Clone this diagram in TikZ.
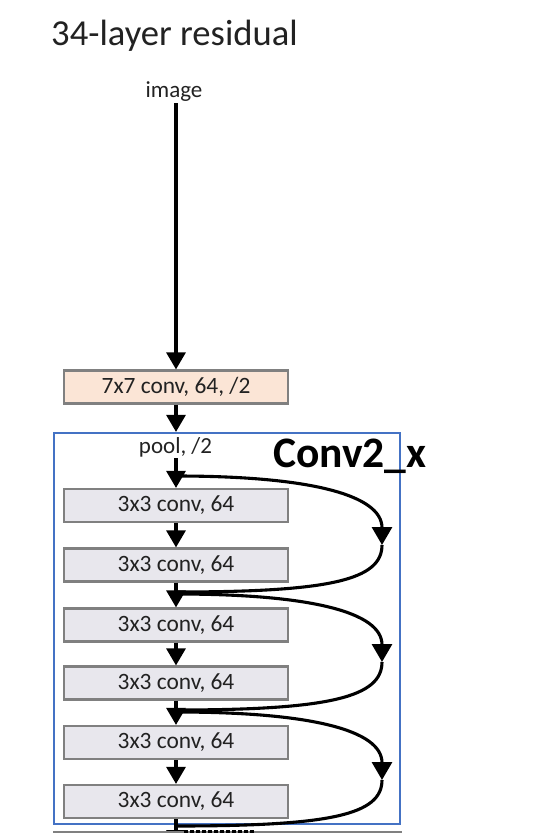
\documentclass[tikz,border=0pt]{standalone}
\usepackage{fontspec}
\setmainfont{Carlito}
\usetikzlibrary{arrows.meta}
\definecolor{peach}{HTML}{FBE5D6}
\definecolor{boxgray}{HTML}{E8E7ED}
\definecolor{edgegray}{HTML}{808080}
\definecolor{stageblue}{HTML}{4472C4}
\definecolor{txt}{HTML}{222222}
\begin{document}
\begin{tikzpicture}[x=1pt,y=-1pt,
  layerbox/.style={draw=edgegray, line width=2.2pt, minimum width=224pt, minimum height=33pt, inner sep=0pt, font=\fontsize{23.4}{27}\selectfont, text=txt},
  convbox/.style={layerbox, fill=boxgray},
  firstbox/.style={layerbox, fill=peach},
  sarr/.style={line width=3.1pt, -{Triangle[width=19pt,length=17pt]}},
  skip/.style={line width=3.1pt},
  skiparr/.style={skip, -{Triangle[width=20pt,length=18pt]}},
  lbl/.style={font=\fontsize{23}{26}\selectfont, text=txt, inner sep=1.5pt},
]
\useasboundingbox (0,0) rectangle (540,833);
\clip (0,0) rectangle (540,833);
\fill[white] (0,0) rectangle (540,833);

\node[anchor=base west, inner sep=0pt, font=\fontsize{36.6}{42}\selectfont, text=txt] (title) at (51,45) {34-layer residual};
\node[lbl, anchor=base] (img) at (174,97.7) {image};
\node[firstbox] (b0) at (176,387) {7x7 conv, 64, /2};
\node[draw=stageblue, line width=2.2pt, minimum width=346pt, minimum height=391pt, inner sep=0pt] (stage) at (227,628.5) {};
\node[lbl, anchor=base] (pool) at (175.5,453) {pool, /2};
\node[anchor=base west, inner sep=0pt, font=\bfseries\fontsize{43.5}{48}\selectfont] (stagename) at (273,467) {Conv2\_x};

\node[convbox] (b1) at (176,505.5) {3x3 conv, 64};
\node[convbox] (b2) at (176,565) {3x3 conv, 64};
\node[convbox] (b3) at (176,625) {3x3 conv, 64};
\node[convbox] (b4) at (176,683) {3x3 conv, 64};
\node[convbox] (b5) at (176,742.5) {3x3 conv, 64};
\node[convbox] (b6) at (176,801.5) {3x3 conv, 64};

% main path
\draw[sarr] (img.south -| b0) -- (b0.north);
\draw[sarr] (b0) -- (b0 |- stage.north);
\draw[sarr] (pool.south -| b1) -- (b1.north);
\draw[sarr] (b1) -- (b2);
\draw[sarr] (b2) -- (b3);
\draw[sarr] (b3) -- (b4);
\draw[sarr] (b4) -- (b5);
\draw[sarr] (b5) -- (b6);
\draw[sarr] (b6.south) -- (176,847);

% shortcuts
\coordinate (m0) at (176,476);
\coordinate (r1) at (382,545);
\coordinate (m1) at (176,592);
\coordinate (m1b) at (176,594);
\coordinate (r2) at (382,662);
\coordinate (m2) at (176,710);
\coordinate (m2b) at (176,712);
\coordinate (r3) at (382,780);
\coordinate (m3) at (176,826);

\draw[skiparr] (m0) .. controls (310,476) and (382,495) .. (r1);
\draw[skip] (r1) .. controls (382,580) and (330,592) .. (m1);
\draw[skiparr] (m1b) .. controls (310,594) and (382,612) .. (r2);
\draw[skip] (r2) .. controls (382,697) and (330,710) .. (m2);
\draw[skiparr] (m2b) .. controls (310,712) and (382,730) .. (r3);
\draw[skip] (r3) .. controls (382,815) and (330,826) .. (m3);

% start of next stage (cut off)
\draw[edgegray, line width=2pt] (53,832) -- (402,832);
\draw[line width=3.5pt, dash pattern=on 3.5pt off 2.5pt] (184,831.5) -- (254,831.5);
\end{tikzpicture}
\end{document}
